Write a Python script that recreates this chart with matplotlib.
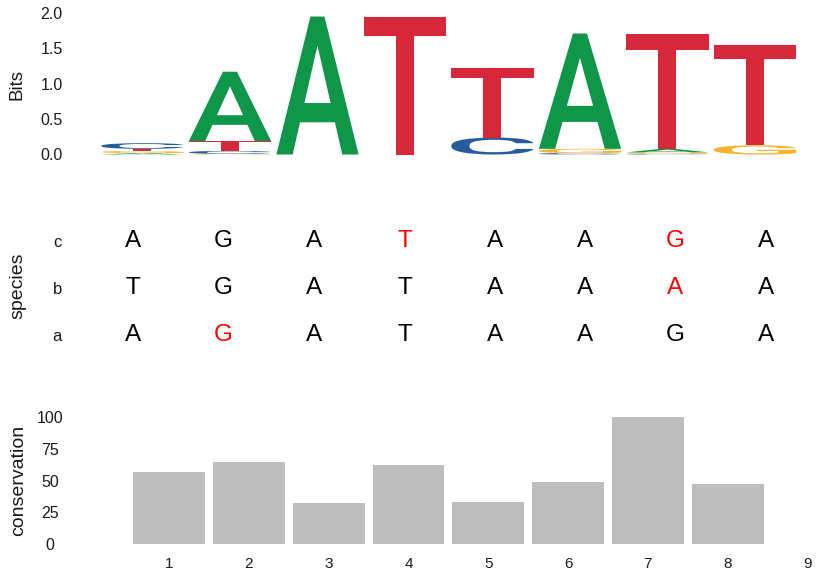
import matplotlib
matplotlib.use("Agg")
import matplotlib.pyplot as plt
from matplotlib.font_manager import FontProperties
from matplotlib.textpath import TextPath
from matplotlib.patches import PathPatch
from matplotlib.transforms import Affine2D

# sequence logo, information content (bits) per base and position
positions = [1, 2, 3, 4, 5, 6, 7, 8]
bits_A = [0.02, 0.98, 1.95, 0.00, 0.00, 1.63, 0.05, 0.00]
bits_C = [0.08, 0.04, 0.00, 0.00, 0.24, 0.02, 0.01, 0.00]
bits_G = [0.03, 0.01, 0.00, 0.00, 0.00, 0.06, 0.02, 0.13]
bits_T = [0.03, 0.14, 0.00, 1.95, 0.98, 0.00, 1.62, 1.42]
base_colors = {"A": "#109648", "C": "#255C99", "G": "#F7B32B", "T": "#D62839"}

# alignment (rows bottom to top)
species = ["a", "b", "c"]
sequences = ["AGATAAGA", "TGATAAAA", "AGATAAGA"]
highlight = [("a", 2), ("b", 7), ("c", 4), ("c", 7)]

# conservation
cons_pos = [1, 2, 3, 4, 5, 6, 7, 8]
conservation = [57, 65, 32, 62, 33, 49, 100, 47]
cons_ticks = [1, 2, 3, 4, 5, 6, 7, 8, 9]

W, H = 830, 581
plt.rcParams["font.family"] = ["Liberation Sans", "DejaVu Sans"]
fig = plt.figure(figsize=(W / 100, H / 100), dpi=100)


def add_axes_px(left, right, top, bottom):
    return fig.add_axes([left / W, 1 - bottom / H, (right - left) / W, (bottom - top) / H])


def clean(ax):
    for s in ax.spines.values():
        s.set_visible(False)
    ax.tick_params(length=0)


# --- logo ---
ax1 = add_axes_px(98.75, 798.75, 13, 154.5)
clean(ax1)
glyph_font = FontProperties(family="Roboto", weight="medium")
letter_w = 0.94
bits = {"A": bits_A, "C": bits_C, "G": bits_G, "T": bits_T}
for i, x in enumerate(positions):
    # smallest at the bottom, largest on top
    stack = sorted(bits, key=lambda b: bits[b][i])
    y0 = 0.0
    for b in stack:
        h = bits[b][i]
        if h <= 0:
            continue
        tp = TextPath((0, 0), b, size=1, prop=glyph_font)
        ext = tp.get_extents()
        tr = (Affine2D()
              .translate(-ext.x0, -ext.y0)
              .scale(letter_w / ext.width, h / ext.height)
              .translate(x - letter_w / 2, y0))
        ax1.add_patch(PathPatch(tr.transform_path(tp), facecolor=base_colors[b],
                                edgecolor="none"))
        y0 += h
ax1.set_xlim(0.5, 8.5)
ax1.set_ylim(0, 2)
ax1.set_xticks([])
ax1.set_yticks([0, 0.5, 1.0, 1.5, 2.0])
ax1.set_yticklabels(["0.0", "0.5", "1.0", "1.5", "2.0"])
ax1.tick_params(axis="y", labelsize=11.5, pad=26, labelcolor="#1a1a1a")
fig.text(17 / W, 1 - 84 / H, "Bits", rotation=90, ha="center", va="center",
         fontsize=13.5, color="#1a1a1a")

# --- alignment ---
ax2 = add_axes_px(88.2, 810.9, 217.5, 358.5)
clean(ax2)
for r, (sp, seq) in enumerate(zip(species, sequences)):
    for j, ch in enumerate(seq):
        col = "#FF0000" if (sp, j + 1) in highlight else "black"
        ax2.text(j + 1, r + 1, ch, ha="center", va="center", fontsize=17.5, color=col)
ax2.set_xlim(0.5, 8.5)
ax2.set_ylim(0.5, 3.5)
ax2.set_xticks([])
ax2.set_yticks([1, 2, 3])
ax2.set_yticklabels(species)
ax2.tick_params(axis="y", labelsize=12, pad=19, labelcolor="#1a1a1a")
fig.text(18 / W, 1 - 286 / H, "species", rotation=90, ha="center", va="center",
         fontsize=14, color="#1a1a1a")

# --- conservation ---
ax3 = add_axes_px(125.1, 827.5, 417.3, 544)
clean(ax3)
ax3.bar(cons_pos, conservation, width=0.9, color="#BEBEBE")
ax3.set_xlim(0.45, 9.25)
ax3.set_ylim(0, 100)
ax3.set_xticks(cons_ticks)
ax3.set_yticks([0, 25, 50, 75, 100])
ax3.tick_params(axis="x", labelsize=11, pad=9, labelcolor="#1a1a1a")
ax3.tick_params(axis="y", labelsize=11.5, pad=54, labelcolor="#1a1a1a")
for lab in ax3.get_yticklabels():
    lab.set_ha("center")
fig.text(19 / W, 1 - 480 / H, "conservation", rotation=90, ha="center", va="center",
         fontsize=14, color="#1a1a1a")

fig.savefig("out.png", dpi=100)
